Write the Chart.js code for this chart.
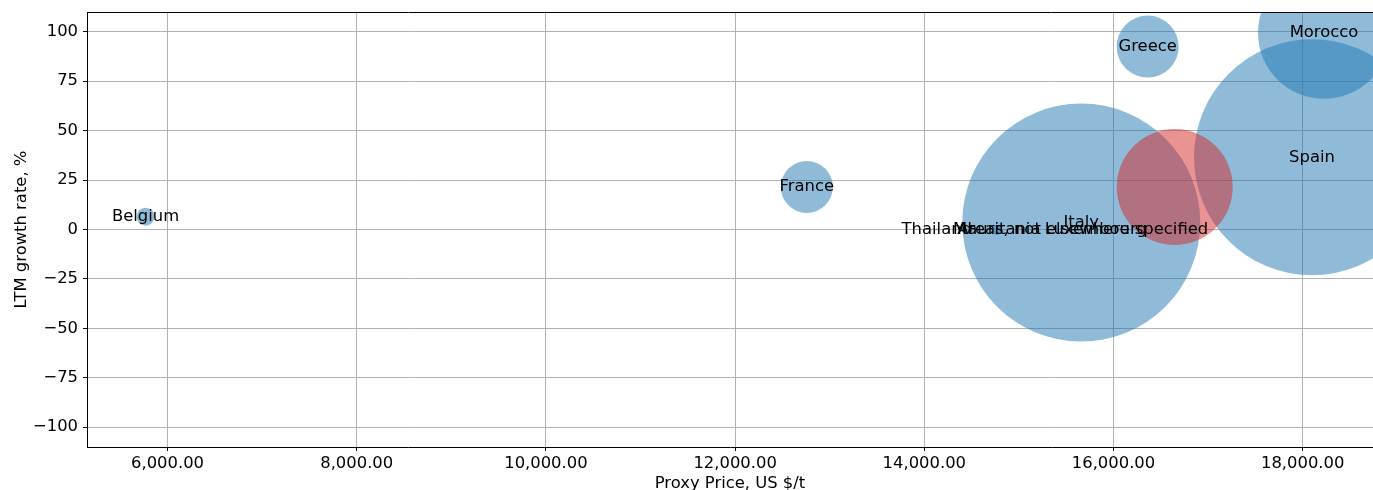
<!DOCTYPE html>
<html>
<head>
<meta charset="utf-8">
<script src="https://cdn.jsdelivr.net/npm/chart.js@4.4.0/dist/chart.umd.min.js"></script>
<style>
html, body { margin: 0; padding: 0; background: #fff; overflow: hidden; }
#wrap { position: relative; width: 1373px; height: 490px; }
</style>
</head>
<body>
<div id="wrap"><canvas id="chart"></canvas></div>
<script>
// values
var countries = ['Belgium', 'France', 'Greece', 'Morocco', 'Spain', 'Italy', 'Thailand', 'Mauritania', 'Areas, not elsewhere specified', 'Luxembourg'];
var prices = [5768, 12758, 16361, 18225, 18098, 15659, 14132, 14766, 15675, 15812];
var growth = [6.5, 21.5, 92.5, 99.5, 36.5, 3.5, 0, -0.3, 0, 0];
var radii = [9, 26, 31, 66, 118, 119, 1, 5, 1, 1];

// highlighted bubble (red, no label)
var highlightPrice = [16647];
var highlightGrowth = [21.5];
var highlightRadius = [58];

var xTicks = [6000, 8000, 10000, 12000, 14000, 16000, 18000];
var yTicks = [-100, -75, -50, -25, 0, 25, 50, 75, 100];

var fontFamily = "'DejaVu Sans', sans-serif";

function buildPoints(xs, ys, rs) {
    var pts = [];
    for (var i = 0; i < xs.length; i++) {
        pts.push({ x: xs[i], y: ys[i], r: rs[i] });
    }
    return pts;
}

var labelPlugin = {
    id: 'bubbleLabels',
    afterDatasetsDraw: function(chart) {
        var ctx = chart.ctx;
        var xs = chart.scales.x;
        var ys = chart.scales.y;
        ctx.save();
        ctx.beginPath();
        ctx.rect(chart.chartArea.left, chart.chartArea.top, chart.chartArea.right - chart.chartArea.left, chart.chartArea.bottom - chart.chartArea.top);
        ctx.clip();
        ctx.font = '16.4px ' + fontFamily;
        ctx.fillStyle = '#000';
        ctx.textAlign = 'center';
        ctx.textBaseline = 'middle';
        for (var i = 0; i < countries.length; i++) {
            ctx.fillText(countries[i], xs.getPixelForValue(prices[i]), ys.getPixelForValue(growth[i]));
        }
        ctx.restore();
    },
    afterDraw: function(chart) {
        // top spine
        var ctx = chart.ctx;
        var a = chart.chartArea;
        ctx.save();
        ctx.strokeStyle = '#000';
        ctx.lineWidth = 1;
        ctx.beginPath();
        ctx.moveTo(a.left, Math.round(a.top) + 0.5);
        ctx.lineTo(a.right, Math.round(a.top) + 0.5);
        ctx.stroke();
        ctx.restore();
    }
};

function fmtPrice(v) {
    return v.toLocaleString('en-US', { minimumFractionDigits: 2, maximumFractionDigits: 2 });
}

var chart = new Chart(document.getElementById('chart'), {
    type: 'bubble',
    data: {
        datasets: [{
            label: 'countries',
            data: buildPoints(prices, growth, radii),
            backgroundColor: 'rgba(31, 119, 180, 0.5)',
            borderWidth: 0,
            clip: 0,
            order: 1
        }, {
            label: 'highlight',
            data: buildPoints(highlightPrice, highlightGrowth, highlightRadius),
            backgroundColor: 'rgba(214, 39, 40, 0.5)',
            borderWidth: 0,
            clip: 0,
            order: 0
        }]
    },
    options: {
        responsive: true,
        maintainAspectRatio: false,
        devicePixelRatio: 1,
        animation: false,
        events: [],
        layout: { autoPadding: false, padding: { left: 12, top: 12, right: 0, bottom: 0 } },
        plugins: {
            legend: { display: false },
            tooltip: { enabled: false }
        },
        scales: {
            x: {
                type: 'linear',
                min: 5149,
                max: 18743,
                afterBuildTicks: function(scale) {
                    scale.ticks = xTicks.map(function(v) { return { value: v }; });
                },
                afterFit: function(scale) { scale.height = 43; },
                grid: { color: '#b0b0b0', lineWidth: 1, tickLength: 4, tickColor: '#000' },
                border: { display: true, color: '#000', width: 1 },
                ticks: {
                    color: '#000',
                    padding: 3,
                    maxRotation: 0,
                    font: { family: fontFamily, size: 16.4 },
                    callback: function(v) { return fmtPrice(v); }
                },
                title: {
                    display: true,
                    text: 'Proxy Price, US $/t',
                    color: '#000',
                    padding: { top: 0, bottom: -2 },
                    font: { family: fontFamily, size: 16.4, lineHeight: 1 }
                }
            },
            y: {
                type: 'linear',
                min: -110,
                max: 110,
                afterBuildTicks: function(scale) {
                    scale.ticks = yTicks.map(function(v) { return { value: v }; });
                },
                afterFit: function(scale) {
                    scale.width = 75;
                    scale.paddingTop = 0;
                    scale.paddingBottom = 0;
                },
                grid: { color: '#b0b0b0', lineWidth: 1, tickLength: 4, tickColor: '#000' },
                border: { display: true, color: '#000', width: 1 },
                ticks: {
                    color: '#000',
                    padding: 5,
                    font: { family: fontFamily, size: 16.4 },
                    callback: function(v) { return v < 0 ? '\u2212' + Math.abs(v) : String(v); }
                },
                title: {
                    display: true,
                    text: 'LTM growth rate, %',
                    color: '#000',
                    padding: { top: 2, bottom: 0 },
                    font: { family: fontFamily, size: 16.4, lineHeight: 1 }
                }
            }
        }
    },
    plugins: [labelPlugin]
});
</script>
</body>
</html>
